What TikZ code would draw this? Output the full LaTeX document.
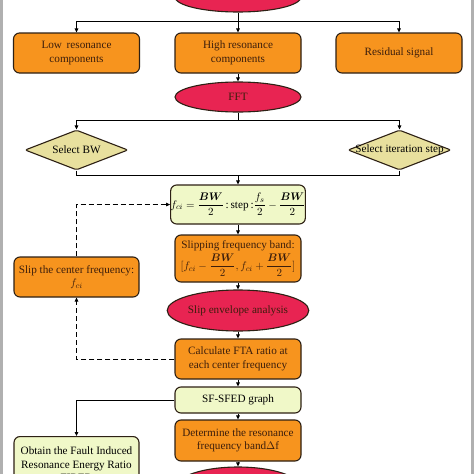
\documentclass[tikz,border=0pt]{standalone}
\usepackage{fontspec}
\usepackage{amsmath}
\usepackage{bm}
\setmainfont{Liberation Serif}
\usetikzlibrary{shapes.geometric,arrows.meta}
\definecolor{orangefill}{RGB}{247,148,30}
\definecolor{redfill}{RGB}{232,36,82}
\definecolor{greenfill}{RGB}{240,248,200}
\definecolor{khakifill}{RGB}{232,224,158}
\definecolor{edgecol}{RGB}{45,32,20}
\definecolor{txtbrown}{RGB}{60,30,12}
\definecolor{framegray}{RGB}{176,176,176}
\tikzset{
  base/.style={draw=edgecol, line width=1.1pt, font=\fontsize{11.2}{13.5}\selectfont, align=center, inner sep=1pt},
  obox/.style={base, fill=orangefill, text=txtbrown, rounded corners=6pt, minimum width=126pt, minimum height=40pt},
  gbox/.style={base, fill=greenfill, text=black, rounded corners=6pt, minimum width=126pt, minimum height=40pt},
  rell/.style={base, ellipse, fill=redfill, text=txtbrown, minimum width=126pt, minimum height=30pt, inner sep=0pt},
  kdia/.style={base, diamond, fill=khakifill, minimum width=103pt, minimum height=40pt, inner sep=0pt, rounded corners=2pt},
  conn/.style={line width=0.9pt, draw=black},
  arr/.style={conn, -{Triangle[length=4pt,width=3.6pt]}},
  dsh/.style={dash pattern=on 5pt off 3pt},
}
\begin{document}
\begin{tikzpicture}[x=1pt,y=-1pt]
\useasboundingbox (0,0) rectangle (474,474);
\clip (0,0) rectangle (474,474);
\fill[white] (0,0) rectangle (474,474);
\fill[framegray] (0,0) rectangle (2.5,474);
\fill[framegray] (471,0) rectangle (474,474);

\node[rell] (top) at (238,-3) {};
\node[obox] (low) at (76.5,53) {Low\, resonance\\components};
\node[obox] (high) at (238,53) {High resonance\\components};
\node[obox] (res) at (399,53) {Residual signal};
\node[rell] (fft) at (238,97) {FFT};
\node[kdia, label={[font=\fontsize{11.2}{13.5}\selectfont, text=black]center:Select BW}] (selbw) at (76.5,150) {};
\node[kdia, label={[font=\fontsize{11.2}{13.5}\selectfont, text=black]center:Select iteration step}] (selit) at (399.5,150) {};
\node[gbox, minimum height=39pt, inner sep=0pt] (g1) at (238,204.5) {$\displaystyle f_{ci}=\frac{\bm{BW}}{2}\,\text{:\,step\,:}\frac{f_s}{2}-\frac{\bm{BW}}{2}$};
\node[obox, minimum height=47pt, inner sep=0pt] (slip) at (238,258.5) {Slipping frequency band:\\[3pt]$\displaystyle [f_{ci}-\frac{\bm{BW}}{2},f_{ci}+\frac{\bm{BW}}{2}]$};
\node[rell, minimum height=41pt] (env) at (238,310.5) {Slip envelope analysis};
\node[obox] (calc) at (238,359) {Calculate FTA ratio at\\each center frequency};
\node[gbox, minimum height=26pt] (sf) at (238,400) {SF-SFED graph};
\node[obox, minimum height=41pt] (det) at (238,440.5) {Determine the resonance\\frequency band$\Delta$f};
\node[rell, minimum height=42pt] (bot) at (238,488) {};
\node[obox, minimum width=125pt] (slipc) at (76.5,277) {Slip the center frequency:\\$f_{ci}$};
\node[gbox, minimum width=125pt, minimum height=56pt, anchor=north] (obt) at (76.5,436) {Obtain the Fault Induced\\Resonance Energy Ratio\\FIRER};

\coordinate (j1) at (238,21);
\coordinate (j2) at (238,120);
\coordinate (j3) at (238,175);
\draw[conn] (top) -- (j1);
\draw[arr] (j1) -| (low);
\draw[arr] (j1) -- (high);
\draw[arr] (j1) -| (res);
\draw[arr] (high) -- (fft);
\draw[conn] (fft) -- (j2);
\draw[arr] (j2) -| (selbw);
\draw[arr] (j2) -| (selit);
\draw[conn] (selbw.south) |- (j3);
\draw[conn] (selit.south) |- (j3);
\draw[arr] (j3) -- (g1);
\draw[arr] (g1) -- (slip);
\draw[arr] (slip) -- (env);
\draw[arr] (env) -- (calc);
\draw[arr] (calc) -- (sf);
\draw[arr] (sf) -- (det);
\draw[arr] (det) -- (bot);
\draw[arr, dsh] (slipc) |- (g1);
\draw[arr, dsh] (calc) -| (slipc);
\draw[arr] (sf) -| (obt);
\end{tikzpicture}
\end{document}
